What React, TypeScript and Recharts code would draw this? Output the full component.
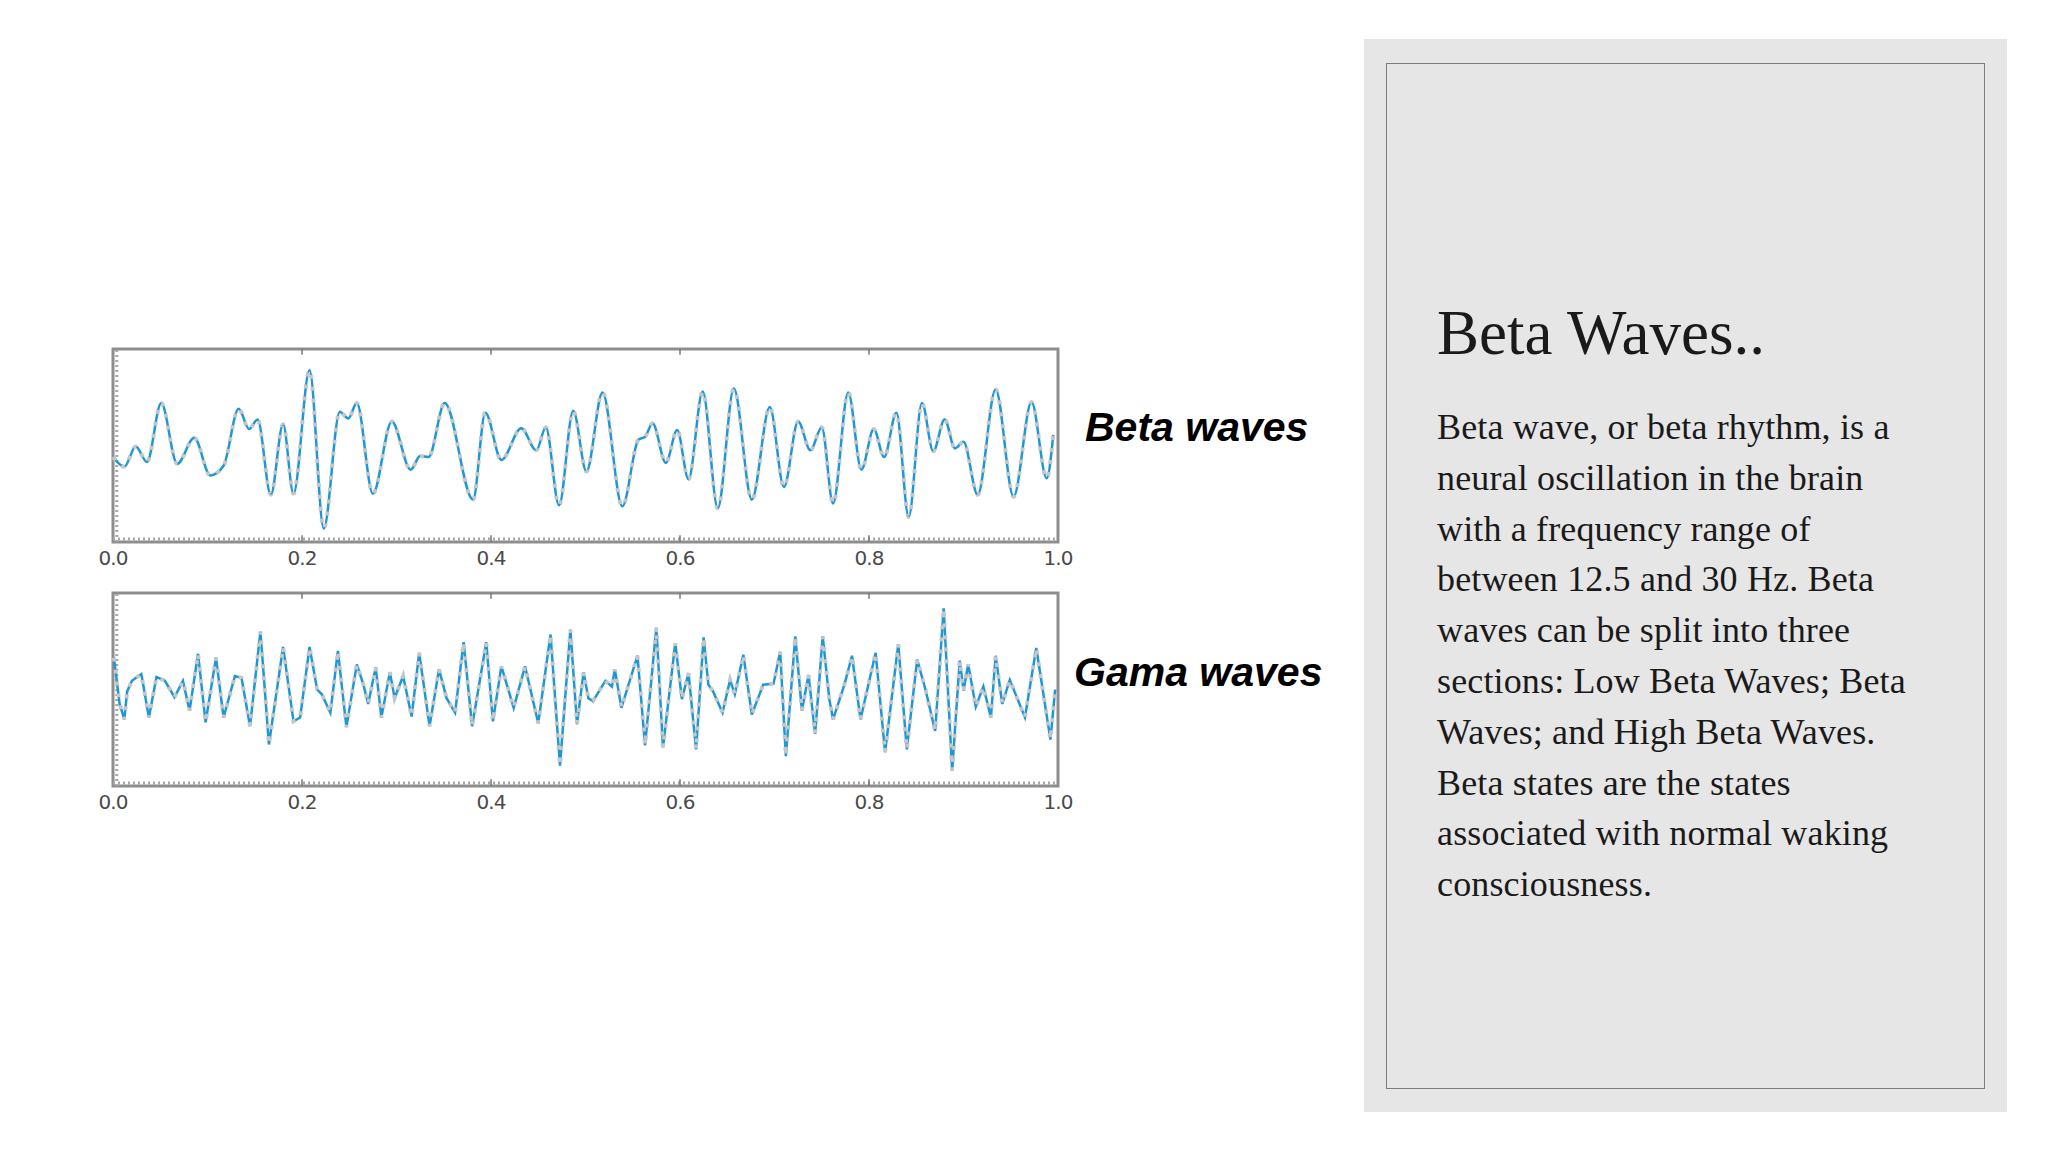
import { useMemo } from "react";
import {
  Line,
  LineChart,
  ReferenceArea,
  ReferenceLine,
  XAxis,
  YAxis,
} from "recharts";

// time axis (seconds) and tick marks
const xTicks = [0, 0.2, 0.4, 0.6, 0.8, 1.0];

// beta trace (amplitude in arbitrary units, -1..1)
const betaTime = [
  0.0, 0.012, 0.024, 0.036, 0.051, 0.068, 0.086, 0.103, 0.117, 0.133, 0.144,
  0.153, 0.167, 0.18, 0.191, 0.208, 0.223, 0.24, 0.249, 0.258, 0.275, 0.295,
  0.315, 0.325, 0.334, 0.351, 0.381, 0.394, 0.411, 0.432, 0.448, 0.458, 0.472,
  0.487, 0.501, 0.518, 0.539, 0.556, 0.563, 0.571, 0.585, 0.597, 0.609, 0.624,
  0.64, 0.657, 0.676, 0.695, 0.71, 0.725, 0.738, 0.75, 0.762, 0.778, 0.792,
  0.805, 0.816, 0.829, 0.842, 0.856, 0.868, 0.88, 0.891, 0.9, 0.915, 0.934,
  0.953, 0.972, 0.988, 0.995,
];
const betaAmp = [
  -0.12, -0.22, -0.01, -0.17, 0.44, -0.19, 0.08, -0.31, -0.21, 0.38, 0.17,
  0.27, -0.51, 0.22, -0.5, 0.78, -0.86, 0.35, 0.28, 0.44, -0.5, 0.25, -0.25,
  -0.11, -0.12, 0.44, -0.56, 0.34, -0.15, 0.18, -0.05, 0.19, -0.62, 0.36,
  -0.27, 0.55, -0.63, 0.06, 0.09, 0.23, -0.18, 0.16, -0.35, 0.56, -0.65, 0.59,
  -0.56, 0.4, -0.43, 0.25, -0.05, 0.19, -0.6, 0.55, -0.25, 0.17, -0.12, 0.34,
  -0.74, 0.44, -0.06, 0.27, -0.03, 0.04, -0.51, 0.58, -0.53, 0.45, -0.34, 0.11,
];

// gamma trace
const gammaTime = [
  0.001, 0.007, 0.012, 0.015, 0.02, 0.03, 0.038, 0.046, 0.055, 0.065, 0.074,
  0.081, 0.09, 0.098, 0.109, 0.117, 0.129, 0.136, 0.145, 0.156, 0.165, 0.18,
  0.191, 0.198, 0.208, 0.216, 0.221, 0.23, 0.238, 0.247, 0.258, 0.265, 0.27,
  0.278, 0.284, 0.293, 0.298, 0.307, 0.316, 0.324, 0.335, 0.345, 0.353, 0.362,
  0.371, 0.38, 0.395, 0.402, 0.411, 0.424, 0.436, 0.45, 0.463, 0.473, 0.484,
  0.491, 0.498, 0.503, 0.508, 0.521, 0.528, 0.531, 0.538, 0.555, 0.563, 0.575,
  0.582, 0.595, 0.602, 0.609, 0.617, 0.625, 0.63, 0.635, 0.645, 0.653, 0.658,
  0.667, 0.676, 0.688, 0.699, 0.706, 0.712, 0.722, 0.729, 0.736, 0.743, 0.751,
  0.758, 0.762, 0.774, 0.782, 0.791, 0.807, 0.817, 0.831, 0.84, 0.851, 0.86,
  0.87, 0.879, 0.888, 0.896, 0.9, 0.905, 0.913, 0.921, 0.929, 0.934, 0.941,
  0.949, 0.965, 0.977, 0.992, 0.997,
];
const gammaAmp = [
  0.33, -0.15, -0.31, -0.02, 0.09, 0.16, -0.29, 0.13, 0.09, -0.08, 0.09, -0.22,
  0.37, -0.34, 0.33, -0.29, 0.14, 0.12, -0.38, 0.6, -0.57, 0.44, -0.33, -0.29,
  0.44, 0.0, -0.05, -0.24, 0.4, -0.39, 0.26, 0.05, -0.15, 0.23, -0.29, 0.18,
  -0.09, 0.14, -0.28, 0.38, -0.38, 0.21, -0.09, -0.24, 0.49, -0.38, 0.49,
  -0.33, 0.24, -0.19, 0.24, -0.35, 0.57, -0.79, 0.62, -0.36, 0.18, -0.09,
  -0.12, 0.09, 0.03, 0.21, -0.19, 0.35, -0.58, 0.64, -0.6, 0.48, -0.1, 0.17,
  -0.62, 0.54, 0.05, -0.02, -0.24, 0.1, -0.05, 0.36, -0.26, 0.05, 0.06, 0.39,
  -0.69, 0.55, -0.22, 0.15, -0.46, 0.55, -0.1, -0.31, 0.05, 0.35, -0.31, 0.38,
  -0.65, 0.47, -0.62, 0.31, -0.01, -0.43, 0.84, -0.84, 0.3, -0.01, 0.26, -0.18,
  0.03, -0.29, 0.35, -0.15, 0.1, -0.29, 0.43, -0.52, 0.0,
];

const panelTitle = "Beta Waves..";
const panelLines = [
  "Beta wave, or beta rhythm, is a",
  "neural oscillation in the brain",
  "with a frequency range of",
  "between 12.5 and 30 Hz. Beta",
  "waves can be split into three",
  "sections: Low Beta Waves; Beta",
  "Waves; and High Beta Waves.",
  "Beta states are the states",
  "associated with normal waking",
  "consciousness.",
];

const FRAME = "#8e8e8e";

type WaveProps = {
  time: number[];
  amp: number[];
  curve: "monotone" | "linear";
};

function WaveChart({ time, amp, curve }: WaveProps) {
  const data = useMemo(
    () => time.map((t, i) => ({ t, v: amp[i] })),
    [time, amp]
  );

  return (
    <LineChart
      width={1035}
      height={253}
      data={data}
      margin={{ top: 20, right: 40, bottom: 10, left: 50 }}
    >
      <XAxis
        dataKey="t"
        type="number"
        domain={[0, 1]}
        ticks={xTicks}
        interval={0}
        tickFormatter={(v) => Number(v).toFixed(1)}
        tickSize={0}
        tickMargin={9}
        axisLine={false}
        height={30}
        tick={{
          fontSize: 20,
          fill: "#4a4a4a",
          fontFamily: "DejaVu Sans",
          letterSpacing: -1,
        }}
      />
      <YAxis hide domain={[-1, 1]} />

      <ReferenceArea
        x1={0}
        x2={1}
        y1={-1}
        y2={1}
        fill="#fff"
        fillOpacity={1}
        stroke={FRAME}
        strokeWidth={3}
      />
      {/* ruler look on the bottom and left edges */}
      <ReferenceLine
        y={-0.97}
        stroke="#a8a8a8"
        strokeWidth={3}
        strokeDasharray="2 3"
      />
      <ReferenceLine
        x={0.004}
        stroke="#a8a8a8"
        strokeWidth={3}
        strokeDasharray="2 3"
      />
      {xTicks.slice(1, -1).map((t) => (
        <ReferenceLine
          key={`top-${t}`}
          segment={[
            { x: t, y: 1 },
            { x: t, y: 0.94 },
          ]}
          stroke="#777"
          strokeWidth={1.5}
        />
      ))}
      {xTicks.slice(1, -1).map((t) => (
        <ReferenceLine
          key={`bot-${t}`}
          segment={[
            { x: t, y: -1 },
            { x: t, y: -0.93 },
          ]}
          stroke="#777"
          strokeWidth={1.5}
        />
      ))}

      <Line
        type={curve}
        dataKey="v"
        stroke="#1c98d6"
        strokeWidth={2.5}
        dot={false}
        activeDot={false}
        isAnimationActive={false}
      />
      <Line
        type={curve}
        dataKey="v"
        stroke="#c6c6c6"
        strokeWidth={4}
        strokeDasharray="4 8"
        dot={false}
        activeDot={false}
        isAnimationActive={false}
      />
    </LineChart>
  );
}

const waveLabel: React.CSSProperties = {
  position: "absolute",
  fontFamily: "Liberation Sans",
  fontWeight: 700,
  fontStyle: "italic",
  fontSize: 41,
  lineHeight: "41px",
  color: "#000",
  whiteSpace: "nowrap",
};

export default function App() {
  return (
    <div
      style={{
        position: "absolute",
        left: 0,
        top: 0,
        width: 2048,
        height: 1152,
        background: "#fff",
        overflow: "hidden",
      }}
    >
      <div style={{ position: "absolute", left: 63, top: 329 }}>
        <WaveChart time={betaTime} amp={betaAmp} curve="monotone" />
      </div>
      <div style={{ position: "absolute", left: 63, top: 573 }}>
        <WaveChart time={gammaTime} amp={gammaAmp} curve="linear" />
      </div>

      <div style={{ ...waveLabel, left: 1085, top: 407 }}>Beta waves</div>
      <div style={{ ...waveLabel, left: 1074, top: 652 }}>Gama waves</div>

      {/* text panel */}
      <div
        style={{
          position: "absolute",
          left: 1364,
          top: 39,
          width: 643,
          height: 1073,
          background: "#e7e6e6",
        }}
      />
      <div
        style={{
          position: "absolute",
          left: 1386,
          top: 63,
          width: 597,
          height: 1024,
          border: "1.5px solid #7d7d7d",
        }}
      />
      <div
        style={{
          position: "absolute",
          left: 1437,
          top: 302,
          fontFamily: "Liberation Serif",
          fontSize: 63,
          lineHeight: "62px",
          color: "#1a1a1a",
          whiteSpace: "nowrap",
        }}
      >
        {panelTitle}
      </div>
      <div
        style={{
          position: "absolute",
          left: 1437,
          top: 402,
          fontFamily: "Liberation Serif",
          fontSize: 36,
          lineHeight: "50.8px",
          letterSpacing: 0.15,
          color: "#1a1a1a",
          whiteSpace: "nowrap",
        }}
      >
        {panelLines.map((line) => (
          <div key={line}>{line}</div>
        ))}
      </div>
    </div>
  );
}
